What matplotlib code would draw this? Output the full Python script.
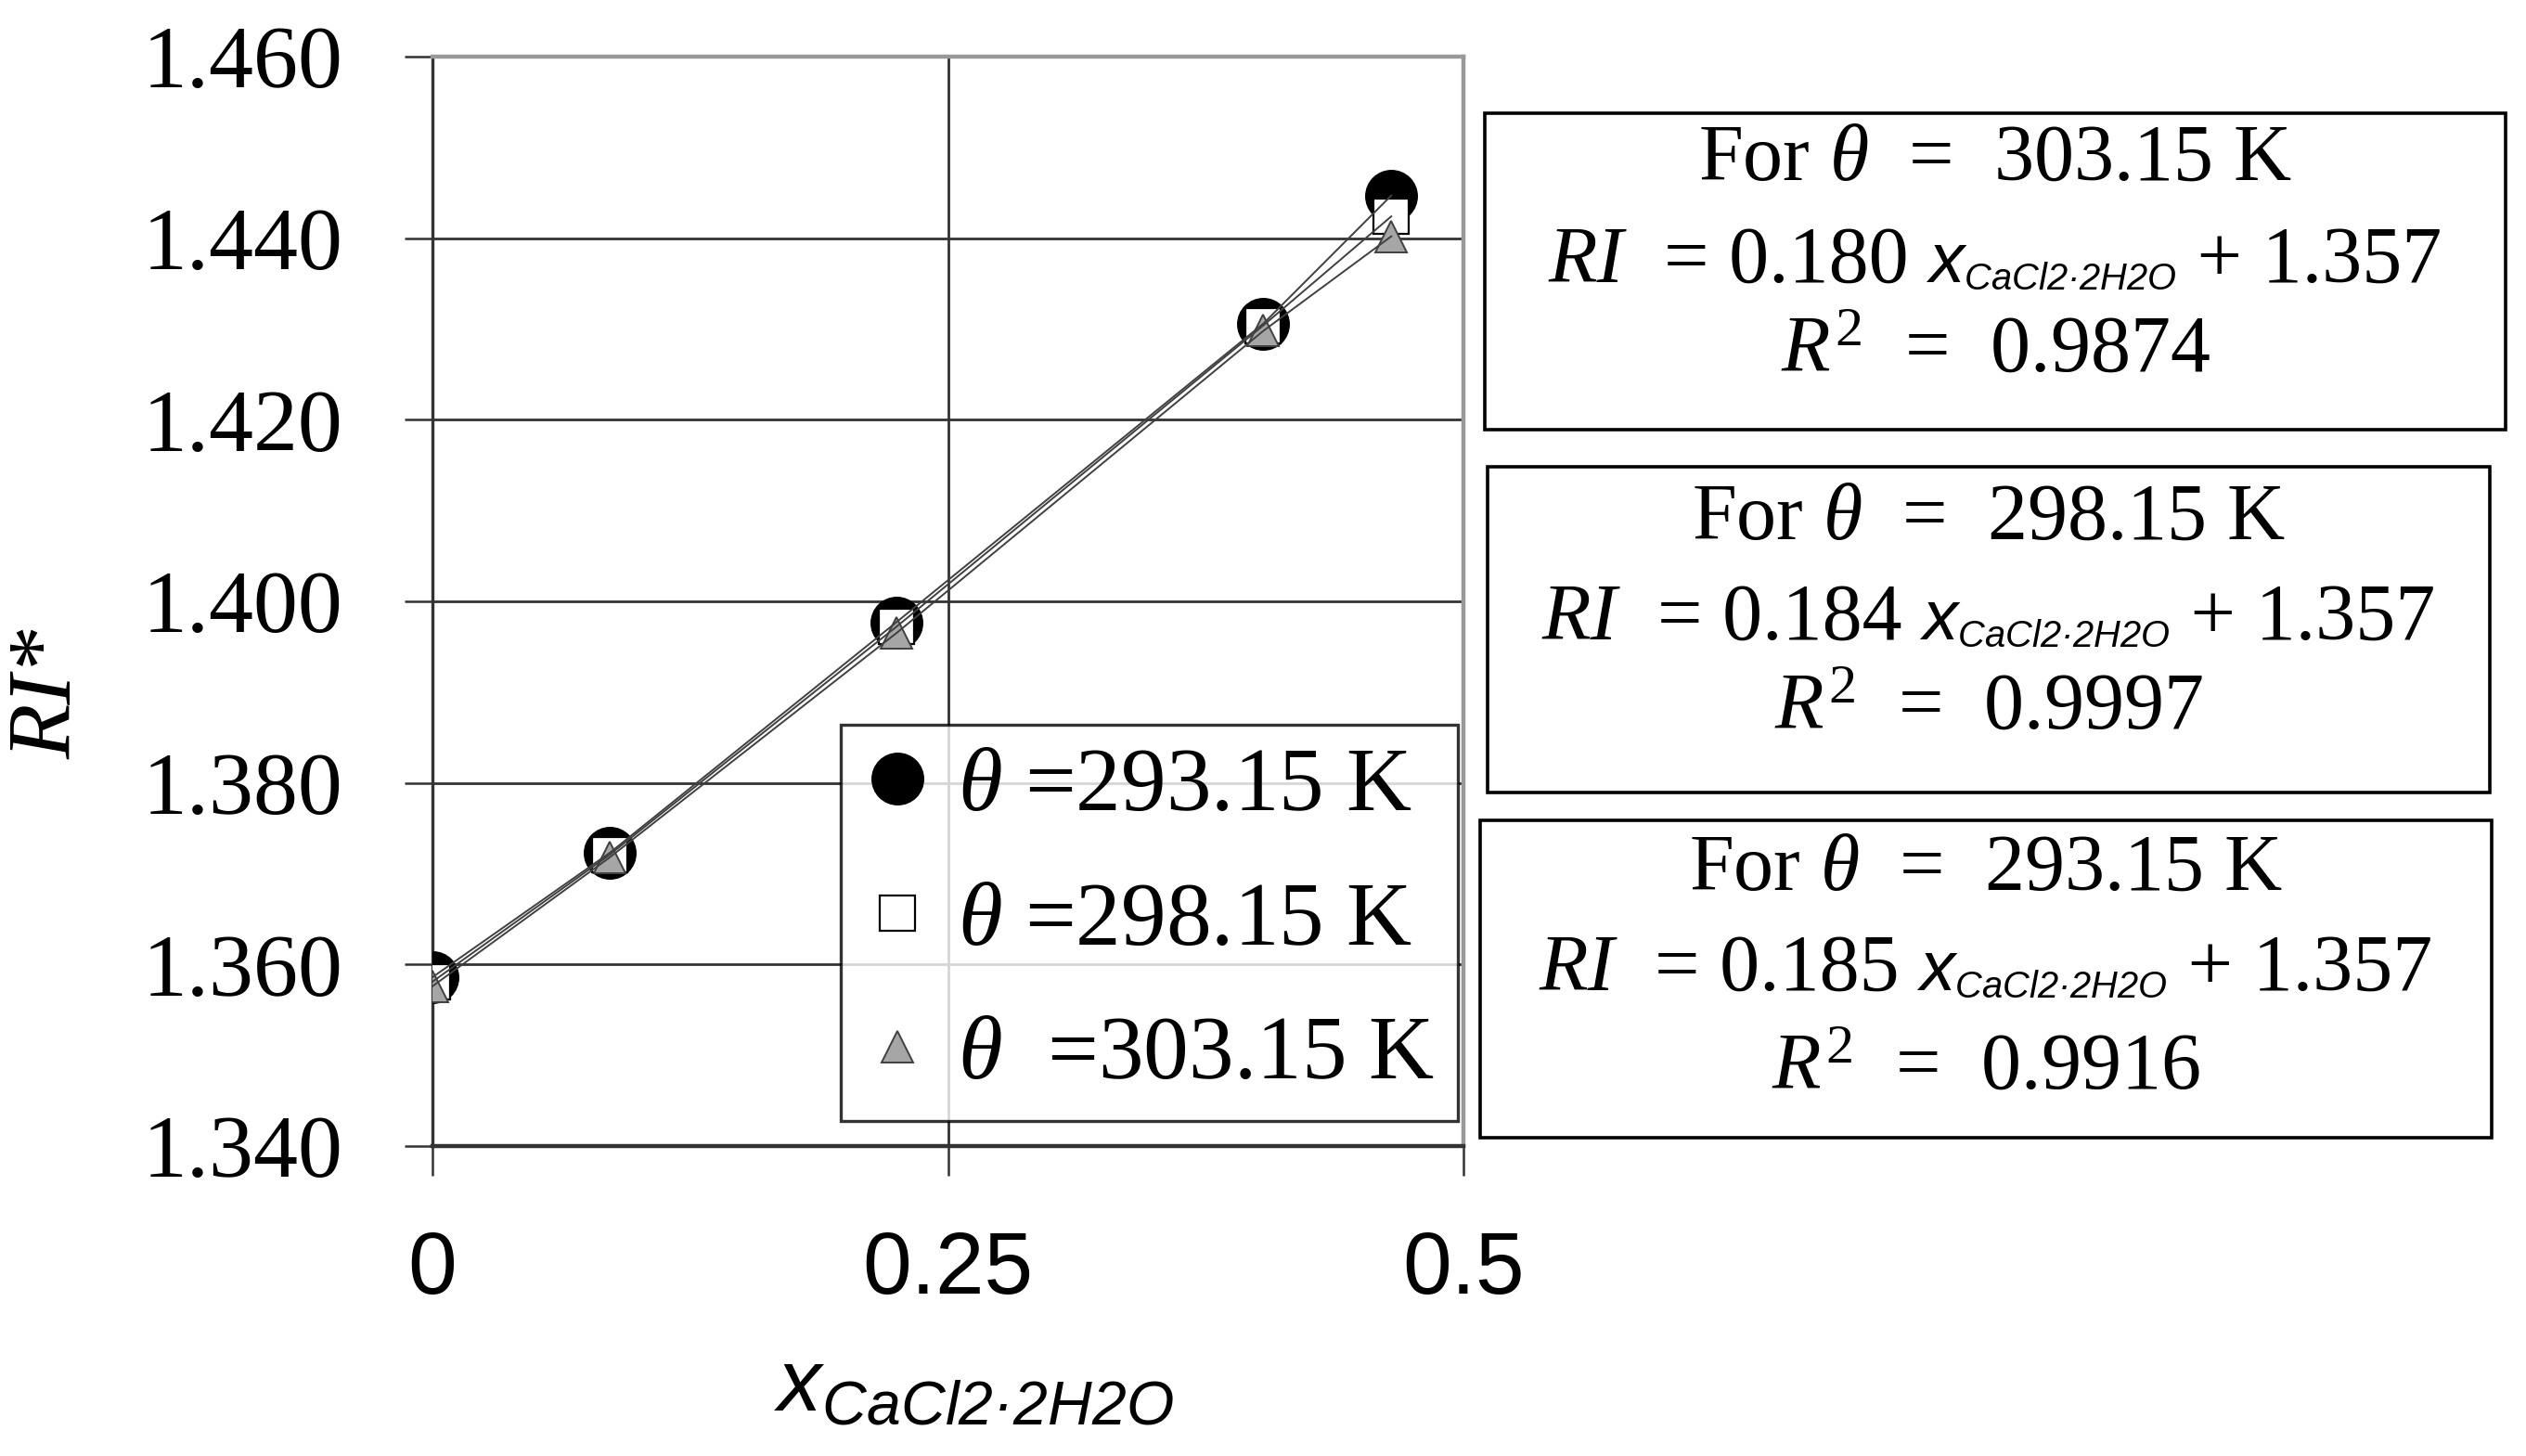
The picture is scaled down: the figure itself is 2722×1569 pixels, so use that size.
import numpy as np
import matplotlib
matplotlib.use("Agg")
import matplotlib.pyplot as plt
from matplotlib.patches import Rectangle
from matplotlib.offsetbox import TextArea, HPacker, AnnotationBbox

# data
x_frac = [0.0, 0.086, 0.225, 0.403, 0.465]
ri_293 = [1.3586, 1.3723, 1.3977, 1.4306, 1.4447]
ri_298 = [1.3581, 1.3721, 1.3972, 1.4304, 1.4424]
ri_303 = [1.3576, 1.3718, 1.3965, 1.4298, 1.4402]

legend_labels = [r"$\theta$ =293.15 K", r"$\theta$ =298.15 K", r"$\theta$  =303.15 K"]
box_temps = ["303.15", "298.15", "293.15"]
box_slopes = ["0.180", "0.184", "0.185"]
box_intercepts = ["1.357", "1.357", "1.357"]
box_r2 = ["0.9874", "0.9997", "0.9916"]

yticks = [1.340, 1.360, 1.380, 1.400, 1.420, 1.440, 1.460]
xticks = [0, 0.25, 0.5]
xtick_labels = ["0", "0.25", "0.5"]

SUB = "CaCl2\u00b72H2O"

plt.rcParams["font.family"] = "Liberation Serif"
plt.rcParams["mathtext.fontset"] = "custom"
plt.rcParams["mathtext.rm"] = "Liberation Serif"
plt.rcParams["mathtext.it"] = "Liberation Serif:italic"
plt.rcParams["mathtext.bf"] = "Liberation Serif:bold"
plt.rcParams["mathtext.sf"] = "Liberation Sans:italic"

W, H, DPI = 2722, 1569, 200
fig = plt.figure(figsize=(W / DPI, H / DPI), dpi=DPI)

def fx(px):
    return px / W

def fy(py):
    return 1 - py / H

# axes box in pixels: left 466, right 1577, top 61, bottom 1235
ax = fig.add_axes([fx(466), fy(1235), fx(1577) - fx(466), fy(61) - fy(1235)])
ax.set_xlim(0, 0.5)
ax.set_ylim(1.34, 1.46)

ax.plot(x_frac, ri_293, "o", ms=19.5, mfc="black", mec="black", zorder=3,
        label=legend_labels[0])
ax.plot(x_frac, ri_298, "s", ms=13.5, mfc="white", mec="black", mew=0.8, zorder=3,
        label=legend_labels[1])
ax.plot(x_frac, ri_303, "^", ms=12.5, mfc="#a6a6a6", mec="#404040", mew=0.7, zorder=3,
        label=legend_labels[2])
for ys in (ri_293, ri_298, ri_303):
    ax.plot(x_frac, ys, "-", color="#404040", lw=0.7, zorder=4)

ax.set_yticks(yticks)
ax.set_yticklabels(["%.3f" % v for v in yticks], fontsize=34.5)
ax.set_xticks(xticks)
ax.set_xticklabels(xtick_labels, fontsize=34, family="Liberation Sans")
ax.tick_params(axis="y", length=10.8, width=0.9, pad=24, color="#333333")
ax.tick_params(axis="x", length=11.5, width=0.9, pad=21, color="#333333")

ax.grid(True, color="#333333", lw=1.0)
ax.set_axisbelow(True)
ax.spines["left"].set_color("#333333")
ax.spines["left"].set_linewidth(1.2)
ax.spines["bottom"].set_color("#333333")
ax.spines["bottom"].set_linewidth(1.6)
for s in ("top", "right"):
    ax.spines[s].set_color("#999999")
    ax.spines[s].set_linewidth(1.6)

fig.text(fx(53), fy(748), "RI*", rotation=90, ha="center", va="center",
         fontsize=35, style="italic")
fig.text(fx(1049), fy(1520), r"$\mathsf{x_{%s}}$" % SUB, ha="center",
         va="baseline", fontsize=34)

leg = ax.legend(loc="upper left", bbox_to_anchor=(fx(906), fy(781)),
                bbox_transform=fig.transFigure, borderaxespad=0, fontsize=35,
                numpoints=1, frameon=True, fancybox=False, edgecolor="black",
                borderpad=0.25, handlelength=0.75, handletextpad=0.3,
                labelspacing=0.57)
leg.get_frame().set_linewidth(1.2)
leg.set_zorder(6)

F = 31
serif = dict(fontsize=F, family="Liberation Serif")
serif_it = dict(fontsize=F, family="Liberation Serif", style="italic")
sans_it = dict(fontsize=27.5, family="Liberation Sans", style="italic")
sub_props = dict(fontsize=20.5)


def equation_line(slope, intercept):
    parts = [
        TextArea("RI", textprops=serif_it),
        TextArea("  = %s " % slope, textprops=serif),
        TextArea("x", textprops=sans_it),
        TextArea(r"${}_{\mathsf{%s}}$" % SUB, textprops=sub_props),
        TextArea(" + %s" % intercept, textprops=serif),
    ]
    return HPacker(children=parts, align="baseline", pad=0, sep=0)


# equation boxes, pixel bounds (left, right, top, bottom) and line centres
boxes = [(1600, 2700, 122, 463), (1603, 2683, 503, 854), (1595, 2685, 884, 1226)]
line_y = [(173, 283, 380), (560, 668, 765), (938, 1046, 1153)]
for i, (l, r, t, b) in enumerate(boxes):
    fig.patches.append(Rectangle((fx(l), fy(b)), fx(r) - fx(l), fy(t) - fy(b),
                                 transform=fig.transFigure, fill=False,
                                 edgecolor="black", lw=1.3))
    cx = fx((l + r) / 2)
    y1, y2, y3 = line_y[i]
    fig.text(cx, fy(y1), r"For $\theta$  =  %s K" % box_temps[i],
             ha="center", va="center", fontsize=F)
    ab = AnnotationBbox(equation_line(box_slopes[i], box_intercepts[i]),
                        (cx, fy(y2)), xycoords="figure fraction",
                        box_alignment=(0.5, 0.5), frameon=False, pad=0)
    fig.add_artist(ab)
    fig.text(cx, fy(y3), r"$R^2$  =  %s" % box_r2[i],
             ha="center", va="center", fontsize=F)

fig.savefig("out.png", dpi=DPI, facecolor="white")
